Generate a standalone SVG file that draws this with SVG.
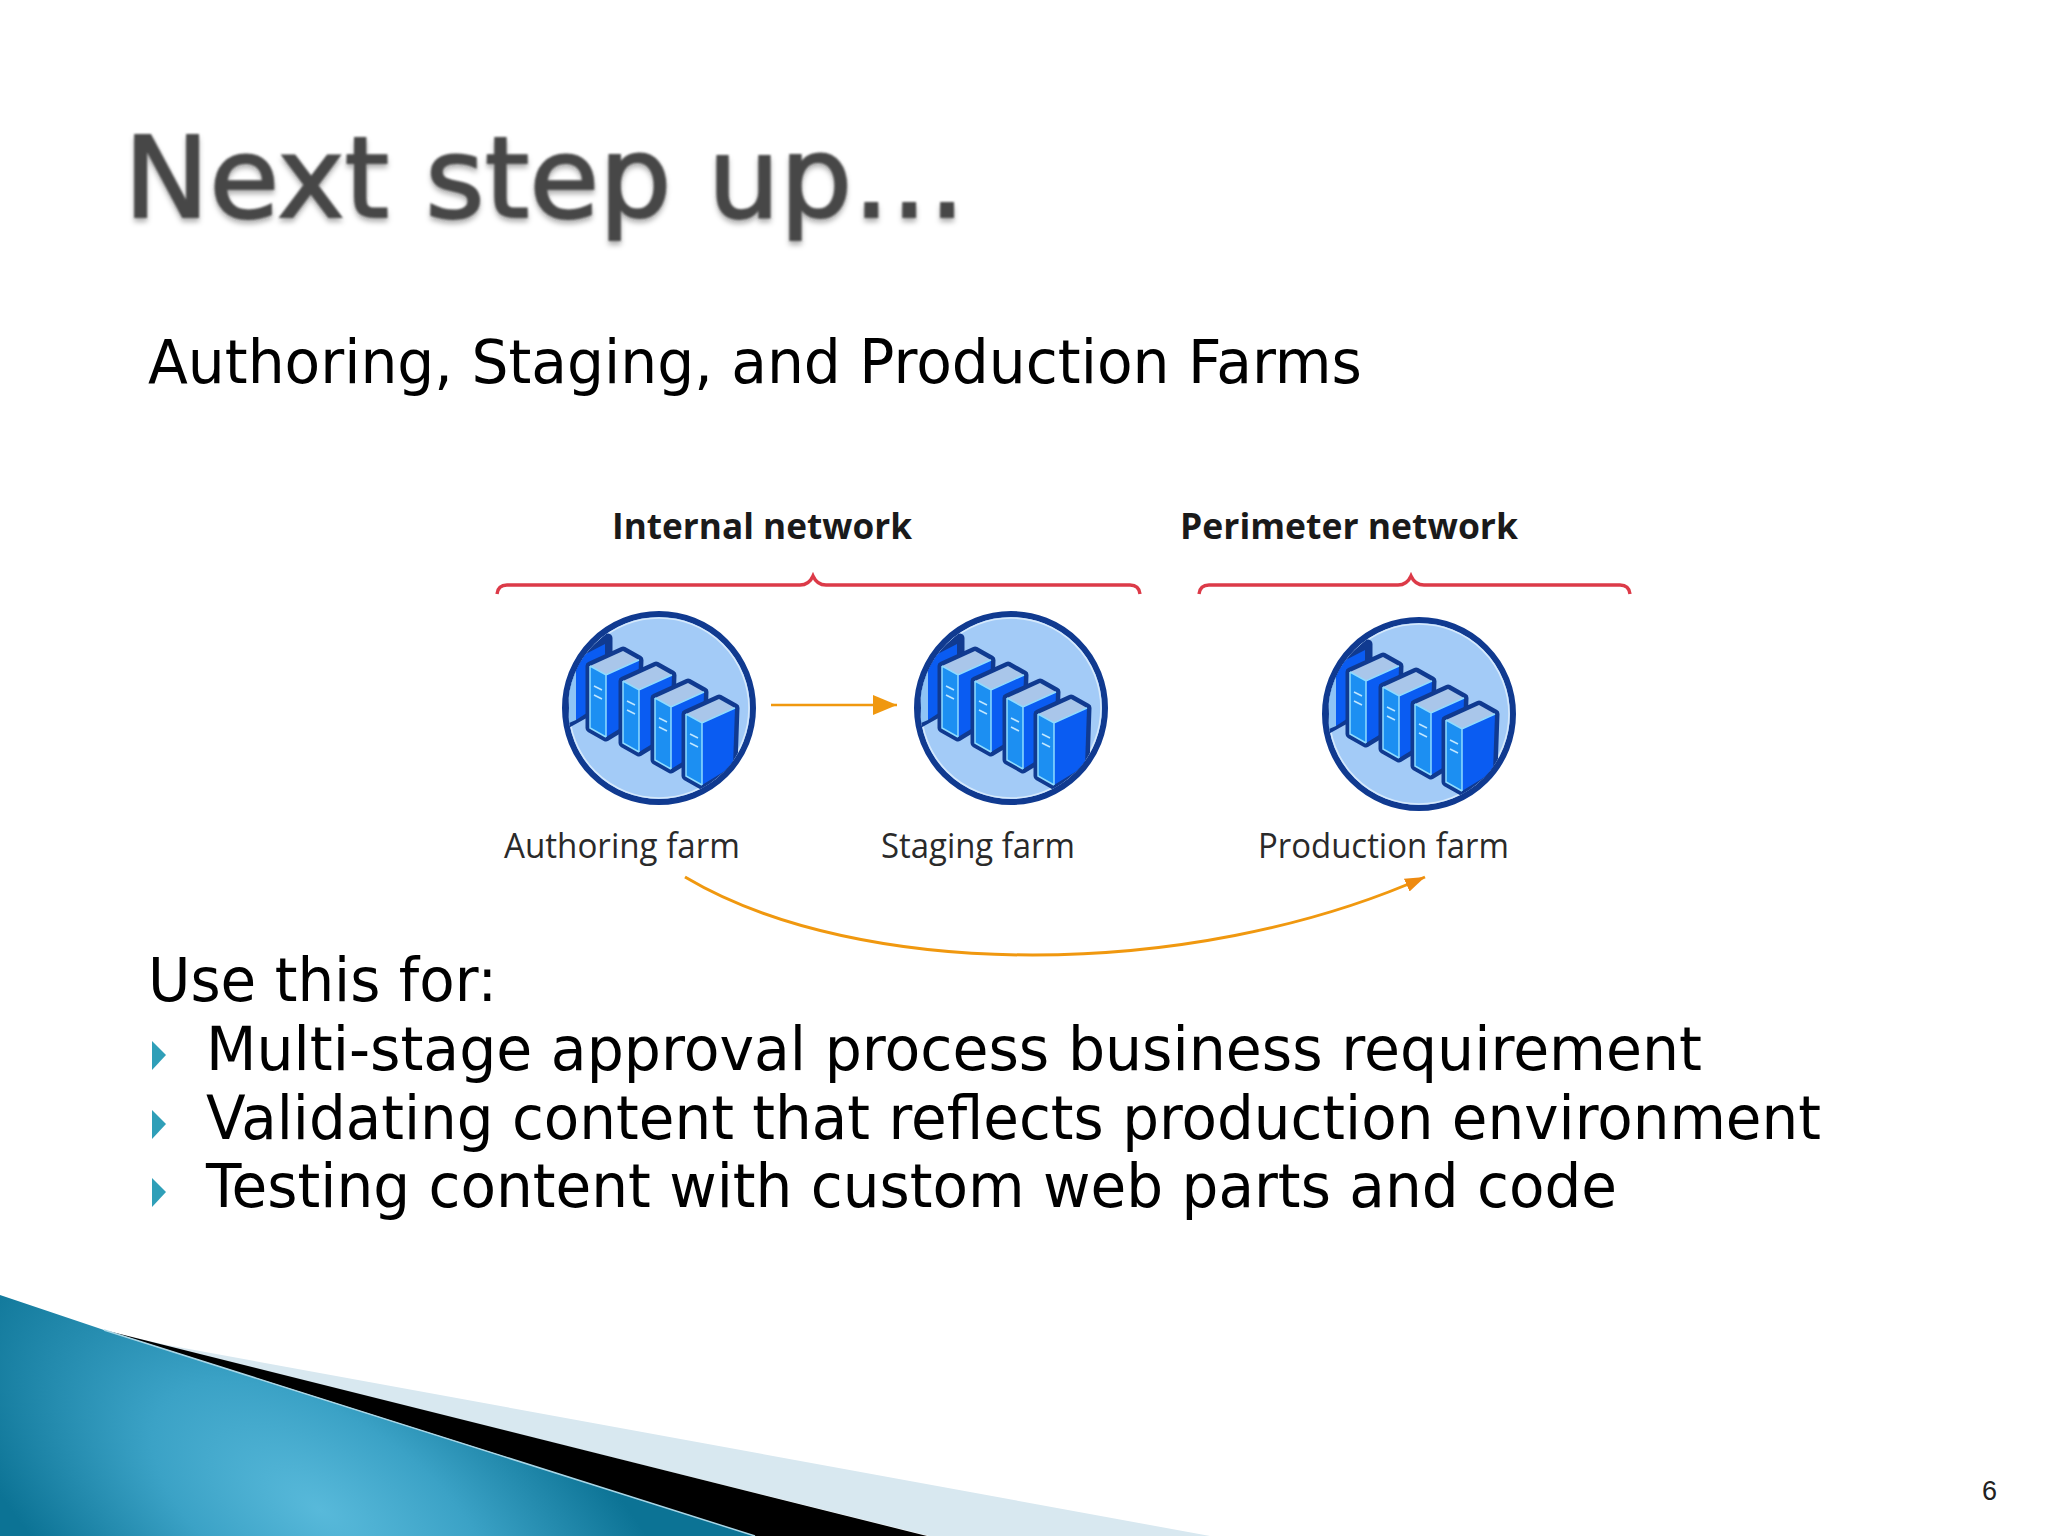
<svg xmlns="http://www.w3.org/2000/svg" width="2048" height="1536" viewBox="0 0 2048 1536">
<style>
.body{font-family:"DejaVu Sans","Liberation Sans",sans-serif;font-size:60px;fill:#000}
.title{font-family:"DejaVu Sans","Liberation Sans",sans-serif;font-size:112px;fill:#474747;stroke:#474747;stroke-width:2}
.net{font-family:"Open Sans","Liberation Sans",sans-serif;font-size:36px;font-weight:700;fill:#1a1a1a}
.farm{font-family:"Open Sans","Liberation Sans",sans-serif;font-size:34px;fill:#2a2a2a}
.brace{fill:none;stroke:#dc3a48;stroke-width:3.4}
.conn{fill:none;stroke:#f0980f}
.disc{fill:#a3cbf7;stroke:#103a90;stroke-width:6}
.rim{fill:none;stroke:#d6e9fb;stroke-width:1.6}
.out{fill:#103a90;stroke:#103a90;stroke-width:9;stroke-linejoin:round}
.top{fill:#a9c6ea}.left{fill:#1c8ff2}.right{fill:#0a5cf2}
.edge{fill:none;stroke:#8fdcff;stroke-width:1.5}
.dash{fill:none;stroke:#bfe6ff;stroke-width:1.6}
.bullet{fill:#2f9fb8}
</style>
<defs>
<filter id="blur" x="-5%" y="-20%" width="110%" height="150%"><feGaussianBlur stdDeviation="0.8" result="b"/><feDropShadow in="b" dx="0" dy="4" stdDeviation="2.5" flood-color="#000" flood-opacity="0.3"/></filter>
<radialGradient id="teal" gradientUnits="userSpaceOnUse" cx="0" cy="0" r="1" gradientTransform="translate(320 1510) rotate(32) scale(420 210)">
<stop offset="0" stop-color="#58b9da"/><stop offset="0.45" stop-color="#3ba2c6"/><stop offset="1" stop-color="#0c7395"/>
</radialGradient>
<clipPath id="cc"><circle cx="0" cy="0" r="91"/></clipPath>
<g id="srv">
<path class="out" d="M0-2L33-17L49-8L47 50L16 69L0 60Z"/>
<path class="top" d="M0-2L33-17L49-8L16 7Z"/>
<path class="left" d="M0-2L16 7V69L0 60Z"/>
<path class="right" d="M16 7L49-8L47 50L16 69Z"/>
<path class="edge" d="M0-2L16 7L49-8M16 7V69M0-2V60L16 69"/>
<path class="dash" d="M4 18L12 22M4 27L12 31"/>
</g>
<g id="farmicon">
<circle class="disc" r="94"/><circle class="rim" r="90"/>
<g clip-path="url(#cc)">
<path class="out" d="M-96-30L-51-70V-7L-96 18Z"/>
<path d="M-90-32L-83-49V12L-90 15Z" fill="#8fc4f5"/>
<path class="right" d="M-83-49L-54-64V-7L-83 12Z"/>
<use href="#srv" x="-69" y="-40"/>
<use href="#srv" x="-36" y="-25"/>
<use href="#srv" x="-4" y="-8"/>
<use href="#srv" x="27" y="8"/>
</g>
</g>
<marker id="head" markerUnits="userSpaceOnUse" markerWidth="24" markerHeight="22" refX="24" refY="11" orient="auto"><path d="M0 1L24 11L0 21Z" fill="#f0980f"/></marker>
<marker id="head2" markerUnits="userSpaceOnUse" markerWidth="20" markerHeight="14" refX="20" refY="7" orient="auto"><path d="M0 0L20 7L0 14Z" fill="#ee8a10"/></marker>
</defs>
<rect width="2048" height="1536" fill="#fff"/>

<g id="decor">
<path d="M167 1345L1210 1536H929L108 1332Z" fill="#d8e8f0"/>
<path d="M108 1331L927 1536H755Z" fill="#000"/>
<path d="M0 1295L104 1330L755 1536H0Z" fill="url(#teal)"/>
<path d="M104 1330L755 1536" fill="none" stroke="#a9d6e6" stroke-width="1.5"/>
</g>

<text class="title" x="124" y="217" textLength="842" lengthAdjust="spacingAndGlyphs" filter="url(#blur)">Next step up…</text>
<text class="body" x="148" y="383" textLength="1214" lengthAdjust="spacingAndGlyphs">Authoring, Staging, and Production Farms</text>

<g id="connectors">
<path class="brace" d="M497 594Q498 585 507 585H800Q809 585 813 576Q817 585 826 585H1130Q1139 585 1140 594"/>
<path class="brace" d="M1199 594Q1200 585 1209 585H1398Q1407 585 1411 576Q1415 585 1424 585H1620Q1629 585 1630 594"/>
<path class="conn" stroke-width="2.5" d="M771 705H897" marker-end="url(#head)"/>
<path class="conn" stroke-width="3" d="M685 877C860 981 1190 981 1425 877" marker-end="url(#head2)"/>
</g>

<g id="internal-network"><text class="net" x="612" y="539" textLength="300" lengthAdjust="spacingAndGlyphs">Internal network</text></g>
<g id="perimeter-network"><text class="net" x="1180" y="539" textLength="338" lengthAdjust="spacingAndGlyphs">Perimeter network</text></g>

<g id="authoring-farm"><use href="#farmicon" x="659" y="708"/><text class="farm" x="504" y="858" textLength="236" lengthAdjust="spacingAndGlyphs">Authoring farm</text></g>
<g id="staging-farm"><use href="#farmicon" x="1011" y="708"/><text class="farm" x="881" y="858" textLength="194" lengthAdjust="spacingAndGlyphs">Staging farm</text></g>
<g id="production-farm"><use href="#farmicon" x="1419" y="714"/><text class="farm" x="1258" y="858" textLength="251" lengthAdjust="spacingAndGlyphs">Production farm</text></g>

<g id="uses">
<text class="body" x="148" y="1001" textLength="349" lengthAdjust="spacingAndGlyphs">Use this for:</text>
<path class="bullet" d="M152 1041L166 1055L152 1070Z"/>
<text class="body" x="206" y="1070" textLength="1496" lengthAdjust="spacingAndGlyphs">Multi-stage approval process business requirement</text>
<path class="bullet" d="M152 1110L166 1124L152 1139Z"/>
<text class="body" x="206" y="1139" textLength="1615" lengthAdjust="spacingAndGlyphs">Validating content that reflects production environment</text>
<path class="bullet" d="M152 1178L166 1192L152 1207Z"/>
<text class="body" x="206" y="1207" textLength="1411" lengthAdjust="spacingAndGlyphs">Testing content with custom web parts and code</text>
</g>
<text x="1982" y="1500" font-family="Liberation Sans, sans-serif" font-size="27" fill="#222">6</text>
</svg>
